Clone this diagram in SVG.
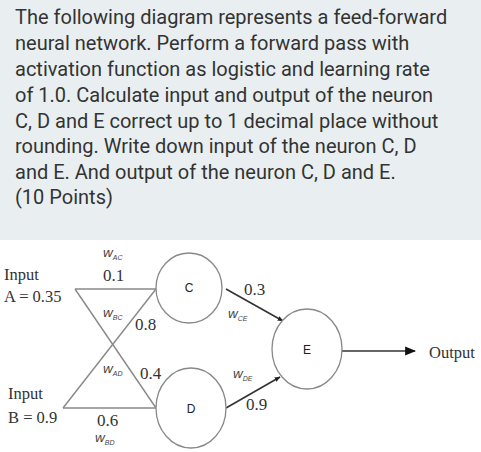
<svg xmlns="http://www.w3.org/2000/svg" width="481" height="452" viewBox="0 0 481 452">
<defs>
<style>
.q{font-family:Roboto,"Noto Sans",sans-serif;font-size:20px;fill:#333}
.lbl{font-family:"Liberation Serif",serif;font-size:16.5px;fill:#333}
.num{font-family:"Liberation Serif",serif;font-size:17px;fill:#333}
.w{font-family:"Liberation Sans",sans-serif;font-size:13.5px;font-style:italic;fill:#444}
.ws{font-size:7px}
.nl{font-family:"Liberation Sans",sans-serif;font-size:12px;fill:#222;text-anchor:middle}
.node{fill:#fff;stroke:#888;stroke-width:1.3}
.gl{stroke:#888;stroke-width:1.4;fill:none}
.dl{stroke:#333;stroke-width:1.6;fill:none}
</style>
<marker id="ah" viewBox="0 0 10 10" refX="9" refY="5" markerWidth="6" markerHeight="6" orient="auto" markerUnits="userSpaceOnUse">
<path d="M0,1 L10,5 L0,9 z" fill="#222"/>
</marker>
<marker id="ah2" viewBox="0 0 10 10" refX="9" refY="5" markerWidth="11" markerHeight="11" orient="auto" markerUnits="userSpaceOnUse">
<path d="M0,1 L10,5 L0,9 z" fill="#111"/>
</marker>
</defs>
<rect x="0" y="0" width="481" height="240" fill="#e9eff1"/>
<rect x="0" y="240" width="481" height="212" fill="#fff"/>
<g id="question">
<text class="q" x="15" y="24">The following diagram represents a feed-forward</text>
<text class="q" x="15" y="50">neural network. Perform a forward pass with</text>
<text class="q" x="15" y="76">activation function as logistic and learning rate</text>
<text class="q" x="15" y="102">of 1.0. Calculate input and output of the neuron</text>
<text class="q" x="15" y="128">C, D and E correct up to 1 decimal place without</text>
<text class="q" x="15" y="153">rounding. Write down input of the neuron C, D</text>
<text class="q" x="15" y="179">and E. And output of the neuron C, D and E.</text>
<text class="q" x="15" y="204" fill="#444">(10 Points)</text>
</g>
<g id="connectors">
<line class="gl" x1="75" y1="289" x2="156" y2="289"/>
<line class="gl" x1="75" y1="289" x2="156" y2="408"/>
<line class="gl" x1="63" y1="408" x2="156" y2="408"/>
<line class="gl" x1="63" y1="408" x2="156" y2="289"/>
<line class="dl" x1="226" y1="289" x2="283" y2="321" marker-end="url(#ah)"/>
<line class="dl" x1="226" y1="408" x2="280" y2="377" marker-end="url(#ah)"/>
<line class="dl" x1="342" y1="351" x2="415" y2="351" marker-end="url(#ah2)"/>
</g>
<g id="inputA">
<text class="lbl" x="4" y="280">Input</text>
<text class="lbl" x="4" y="302">A = 0.35</text>
</g>
<g id="inputB">
<text class="lbl" x="8" y="399">Input</text>
<text class="lbl" x="8" y="423">B = 0.9</text>
</g>
<g id="nodeC">
<ellipse class="node" cx="189" cy="288" rx="33" ry="35"/>
<text class="nl" x="189" y="292">C</text>
</g>
<g id="nodeD">
<ellipse class="node" cx="191" cy="408" rx="35" ry="40"/>
<text class="nl" x="191" y="413">D</text>
</g>
<g id="nodeE">
<ellipse class="node" cx="307" cy="349" rx="35" ry="40"/>
<text class="nl" x="307" y="354">E</text>
</g>
<g id="output">
<text class="lbl" x="429" y="358">Output</text>
</g>
<g id="weights">
<text class="w" x="103" y="257">w<tspan class="ws" dy="3">AC</tspan></text>
<text class="num" x="103" y="281">0.1</text>
<text class="w" x="103" y="317">w<tspan class="ws" dy="3">BC</tspan></text>
<text class="num" x="135" y="330">0.8</text>
<text class="w" x="103" y="373">w<tspan class="ws" dy="3">AD</tspan></text>
<text class="num" x="140" y="379">0.4</text>
<text class="num" x="97" y="426">0.6</text>
<text class="w" x="95" y="442">w<tspan class="ws" dy="3">BD</tspan></text>
<text class="num" x="244" y="295">0.3</text>
<text class="w" x="228" y="318">w<tspan class="ws" dy="3">CE</tspan></text>
<text class="w" x="233" y="378">w<tspan class="ws" dy="3">DE</tspan></text>
<text class="num" x="246" y="410">0.9</text>
</g>
</svg>
